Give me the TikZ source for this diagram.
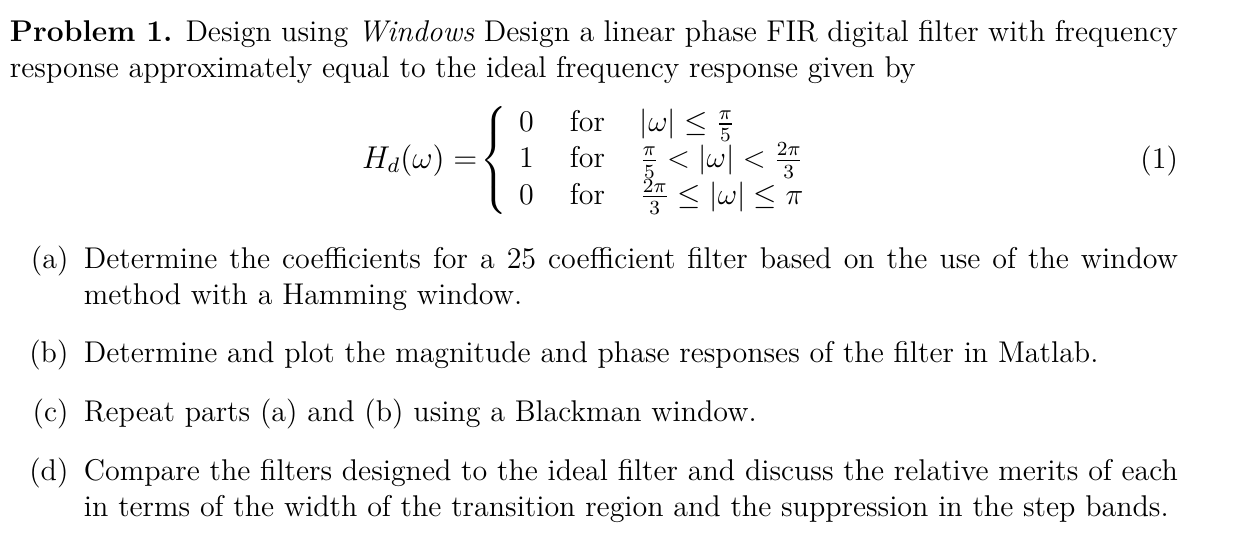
\documentclass[tikz,12pt,border=0pt]{standalone}
\usepackage{amsmath}
\begin{document}
\begin{tikzpicture}[x=0.4pt,y=-0.4pt,
  txt/.style={inner sep=0pt, outer sep=0pt, anchor=base west},
  lab/.style={inner sep=0pt, outer sep=0pt, anchor=base east}]
\useasboundingbox (0,0) rectangle (1256,540);
\fill[white] (0,0) rectangle (1256,540);
\node[txt] (l1) at (10,41) {\makebox[467.2pt][s]{\textbf{Problem 1.} Design using \emph{Windows} Design a linear phase FIR digital filter with frequency}};
\node[txt] (l2) at (10,78) {response approximately equal to the ideal frequency response given by};
\node[txt, scale=1.05] (eqL) at (362,168) {$H_d(\omega) =$};
\node[txt] (eqR) at (480,168) {$\left\{\begin{array}{@{\hspace{5pt}}c@{\hspace{14.4pt}}l@{\hspace{14pt}}l@{}} 0 & \text{for} & |\omega| \le \frac{\pi}{5} \\ 1 & \text{for} & \frac{\pi}{5} < |\omega| < \frac{2\pi}{3} \\ 0 & \text{for} & \frac{2\pi}{3} \le |\omega| \le \pi \end{array}\right.$};
\node[lab] (num) at (1178,168) {(1)};
\node[lab] (la) at (68.5,268) {(a)};
\node[txt] (a1) at (84,268) {\makebox[437.6pt][s]{Determine the coefficients for a 25 coefficient filter based on the use of the window}};
\node[txt] (a2) at (84,304) {method with a Hamming window.};
\node[lab] (lb) at (68.5,362) {(b)};
\node[txt] (b1) at (84,362) {Determine and plot the magnitude and phase responses of the filter in Matlab.};
\node[lab] (lc) at (68.5,421) {(c)};
\node[txt] (c1) at (84,421) {Repeat parts (a) and (b) using a Blackman window.};
\node[lab] (ld) at (68.5,480) {(d)};
\node[txt] (d1) at (84,480) {\makebox[437.6pt][s]{Compare the filters designed to the ideal filter and discuss the relative merits of each}};
\node[txt] (d2) at (84,516) {in terms of the width of the transition region and the suppression in the step bands.};
\end{tikzpicture}
\end{document}
